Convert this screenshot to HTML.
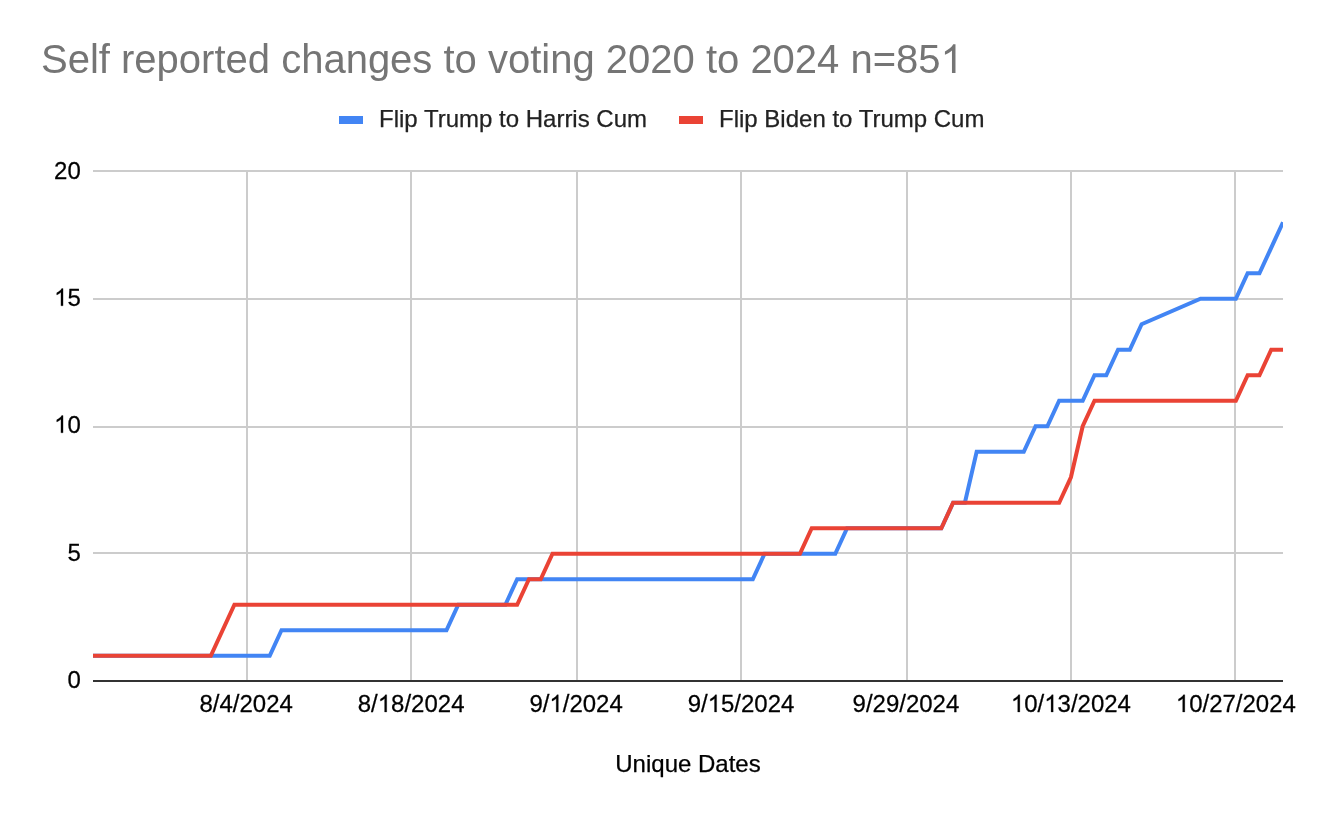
<!DOCTYPE html>
<html><head><meta charset="utf-8"><title>Chart</title>
<style>
html,body{margin:0;padding:0;background:#fff;}
body{width:1324px;height:818px;overflow:hidden;}
svg{display:block;will-change:transform;opacity:0.999;}
text{font-family:"Liberation Sans",sans-serif;}
.t{stroke-width:0.25px;stroke-linejoin:round;}
.k{stroke:#000;}
.g{stroke:#222;}
</style></head><body>
<svg width="1324" height="818" viewBox="0 0 1324 818">
<rect x="0" y="0" width="1324" height="818" fill="#ffffff"/>
<text x="41" y="73" font-size="40" fill="#757575">Self reported changes to voting 2020 to 2024 n=85<tspan style="fill:none;stroke:none">1</tspan></text>
<rect x="339" y="116" width="24" height="8" fill="#4285f4"/>
<text class="t g" x="379" y="127" font-size="24" fill="#222222">Flip Trump to Harris Cum</text>
<rect x="679" y="116" width="24" height="8" fill="#ea4335"/>
<text class="t g" x="719" y="127" font-size="24" fill="#222222">Flip Biden to Trump Cum</text>
<g fill="#cccccc" shape-rendering="crispEdges">
<rect x="246" y="171" width="2" height="510"/>
<rect x="410" y="171" width="2" height="510"/>
<rect x="576" y="171" width="2" height="510"/>
<rect x="740" y="171" width="2" height="510"/>
<rect x="906" y="171" width="2" height="510"/>
<rect x="1070" y="171" width="2" height="510"/>
<rect x="1234" y="171" width="2" height="510"/>
<rect x="93" y="170" width="1190" height="2"/>
<rect x="93" y="298" width="1190" height="2"/>
<rect x="93" y="426" width="1190" height="2"/>
<rect x="93" y="552" width="1190" height="2"/>
</g>
<rect x="93" y="680" width="1190" height="2" fill="#333333" shape-rendering="crispEdges"/>
<defs><clipPath id="plotclip"><rect x="93" y="170" width="1190" height="512"/></clipPath></defs>
<g fill="none" stroke-width="4" stroke-linejoin="miter" stroke-linecap="butt" clip-path="url(#plotclip)">
<path d="M93.00,655.75 L269.73,655.75 L281.51,630.25 L446.47,630.25 L458.25,604.75 L505.38,604.75 L517.16,579.25 L752.80,579.25 L764.58,553.75 L835.28,553.75 L847.06,528.25 L941.32,528.25 L953.10,502.75 L964.88,502.75 L976.66,451.75 L1023.79,451.75 L1035.57,426.25 L1047.36,426.25 L1059.14,400.75 L1082.70,400.75 L1094.49,375.25 L1106.27,375.25 L1118.05,349.75 L1129.83,349.75 L1141.61,324.25 L1200.52,298.75 L1235.87,298.75 L1247.65,273.25 L1259.44,273.25 L1283.00,222.25" stroke="#4285f4"/>
<path d="M93.00,655.75 L210.82,655.75 L234.39,604.75 L517.16,604.75 L528.94,579.25 L540.72,579.25 L552.50,553.75 L799.93,553.75 L811.71,528.25 L941.32,528.25 L953.10,502.75 L1059.14,502.75 L1070.92,477.25 L1082.70,426.25 L1094.49,400.75 L1235.87,400.75 L1247.65,375.25 L1259.44,375.25 L1271.22,349.75 L1283.00,349.75" stroke="#ea4335"/>
</g>
<g class="t k" font-size="24" fill="#000000" text-anchor="middle">
<text transform="translate(0,712) scale(1,1.035)" x="246.17" y="0">8/4/2024</text>
<text transform="translate(0,712) scale(1,1.035)" x="411.12" y="0">8/<tspan style="fill:none;stroke:none">1</tspan>8/2024</text>
<text transform="translate(0,712) scale(1,1.035)" x="576.07" y="0">9/<tspan style="fill:none;stroke:none">1</tspan>/2024</text>
<text transform="translate(0,712) scale(1,1.035)" x="741.02" y="0">9/<tspan style="fill:none;stroke:none">1</tspan>5/2024</text>
<text transform="translate(0,712) scale(1,1.035)" x="905.97" y="0">9/29/2024</text>
<text transform="translate(0,712) scale(1,1.035)" x="1070.92" y="0"><tspan style="fill:none;stroke:none">1</tspan>0/<tspan style="fill:none;stroke:none">1</tspan>3/2024</text>
<text transform="translate(0,712) scale(1,1.035)" x="1235.87" y="0"><tspan style="fill:none;stroke:none">1</tspan>0/27/2024</text>
<text x="688" y="772">Unique Dates</text>
</g>
<g class="t k" font-size="24" fill="#000000" text-anchor="end">
<text transform="translate(0,178.8) scale(1,1.035)" x="80.8" y="0">20</text>
<text transform="translate(0,305.8) scale(1,1.035)" x="80.8" y="0"><tspan style="fill:none;stroke:none">1</tspan>5</text>
<text transform="translate(0,432.8) scale(1,1.035)" x="80.8" y="0"><tspan style="fill:none;stroke:none">1</tspan>0</text>
<text transform="translate(0,560.8) scale(1,1.035)" x="80.8" y="0">5</text>
<text transform="translate(0,687.8) scale(1,1.035)" x="80.8" y="0">0</text>
</g>
<path transform="translate(940.58,73.00) scale(0.019531,-0.019531)" d="M763 0H583V1147Q518 1085 412.5 1023T223 930V1104Q374 1175 487 1276T647 1472H763Z" fill="#757575"/>
<path transform="translate(377.77,712.00) scale(0.011719,-0.011719)" d="M763 0H583V1147Q518 1085 412.5 1023T223 930V1104Q374 1175 487 1276T647 1472H763Z" fill="#000000" stroke="#000000" stroke-width="0.25" stroke-linejoin="round" vector-effect="non-scaling-stroke"/>
<path transform="translate(549.39,712.00) scale(0.011719,-0.011719)" d="M763 0H583V1147Q518 1085 412.5 1023T223 930V1104Q374 1175 487 1276T647 1472H763Z" fill="#000000" stroke="#000000" stroke-width="0.25" stroke-linejoin="round" vector-effect="non-scaling-stroke"/>
<path transform="translate(707.67,712.00) scale(0.011719,-0.011719)" d="M763 0H583V1147Q518 1085 412.5 1023T223 930V1104Q374 1175 487 1276T647 1472H763Z" fill="#000000" stroke="#000000" stroke-width="0.25" stroke-linejoin="round" vector-effect="non-scaling-stroke"/>
<path transform="translate(1010.89,712.00) scale(0.011719,-0.011719)" d="M763 0H583V1147Q518 1085 412.5 1023T223 930V1104Q374 1175 487 1276T647 1472H763Z" fill="#000000" stroke="#000000" stroke-width="0.25" stroke-linejoin="round" vector-effect="non-scaling-stroke"/>
<path transform="translate(1044.24,712.00) scale(0.011719,-0.011719)" d="M763 0H583V1147Q518 1085 412.5 1023T223 930V1104Q374 1175 487 1276T647 1472H763Z" fill="#000000" stroke="#000000" stroke-width="0.25" stroke-linejoin="round" vector-effect="non-scaling-stroke"/>
<path transform="translate(1175.85,712.00) scale(0.011719,-0.011719)" d="M763 0H583V1147Q518 1085 412.5 1023T223 930V1104Q374 1175 487 1276T647 1472H763Z" fill="#000000" stroke="#000000" stroke-width="0.25" stroke-linejoin="round" vector-effect="non-scaling-stroke"/>
<path transform="translate(54.11,305.80) scale(0.011719,-0.011719)" d="M763 0H583V1147Q518 1085 412.5 1023T223 930V1104Q374 1175 487 1276T647 1472H763Z" fill="#000000" stroke="#000000" stroke-width="0.25" stroke-linejoin="round" vector-effect="non-scaling-stroke"/>
<path transform="translate(54.11,432.80) scale(0.011719,-0.011719)" d="M763 0H583V1147Q518 1085 412.5 1023T223 930V1104Q374 1175 487 1276T647 1472H763Z" fill="#000000" stroke="#000000" stroke-width="0.25" stroke-linejoin="round" vector-effect="non-scaling-stroke"/>
</svg></body></html>
